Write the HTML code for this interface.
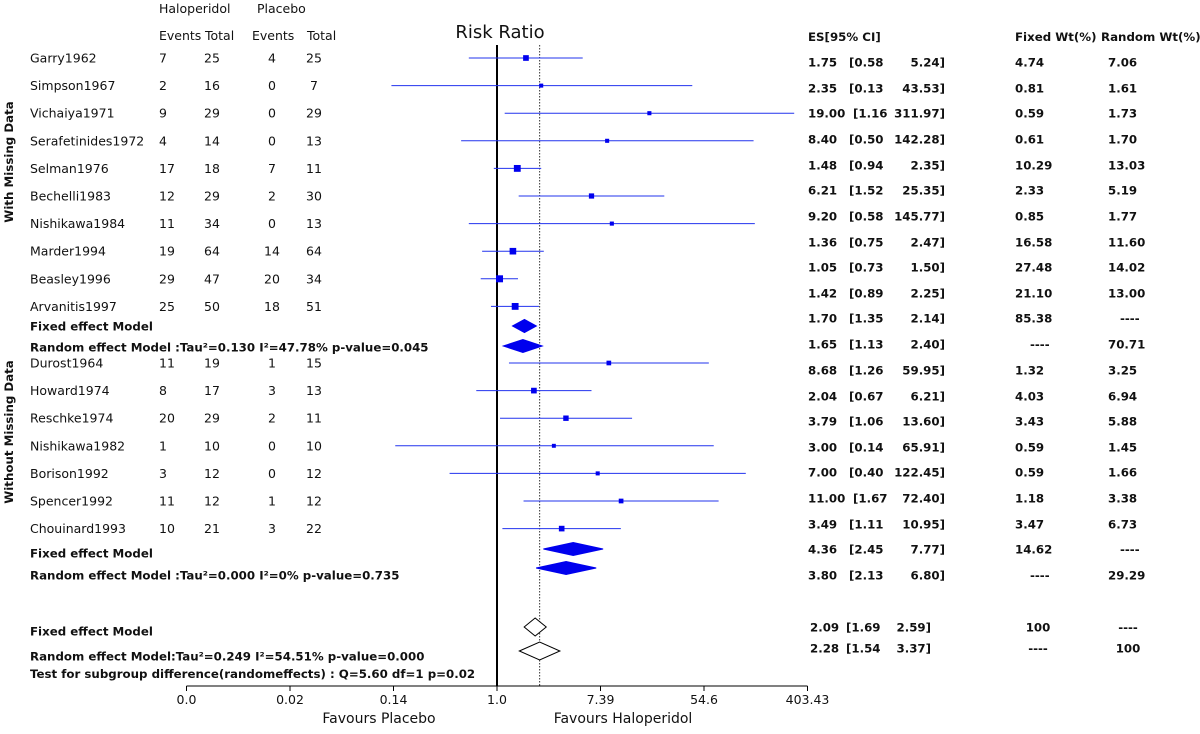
<!DOCTYPE html>
<html><head><meta charset="utf-8"><style>
body{margin:0;background:#fff;width:1200px;height:729px;overflow:hidden}
svg text{font-family:"DejaVu Sans","Liberation Sans",sans-serif;font-size:12.5px;fill:#111}
svg text.b{font-weight:bold;font-size:11.8px}
</style></head><body>
<svg id="c" width="1200" height="729"></svg>
<script>
const studies=["Garry1962","Simpson1967","Vichaiya1971","Serafetinides1972","Selman1976","Bechelli1983","Nishikawa1984","Marder1994","Beasley1996","Arvanitis1997","Durost1964","Howard1974","Reschke1974","Nishikawa1982","Borison1992","Spencer1992","Chouinard1993"];
const groupOf=[0,0,0,0,0,0,0,0,0,0,1,1,1,1,1,1,1];
const halEvents=[7,2,9,4,17,12,11,19,29,25,11,8,20,1,3,11,10];
const halTotal=[25,16,29,14,18,29,34,64,47,50,19,17,29,10,12,12,21];
const plaEvents=[4,0,0,0,7,2,0,14,20,18,1,3,2,0,0,1,3];
const plaTotal=[25,7,29,13,11,30,13,64,34,51,15,13,11,10,12,12,22];
const es=[1.75,2.35,19.00,8.40,1.48,6.21,9.20,1.36,1.05,1.42,8.68,2.04,3.79,3.00,7.00,11.00,3.49];
const lo=[0.58,0.13,1.16,0.50,0.94,1.52,0.58,0.75,0.73,0.89,1.26,0.67,1.06,0.14,0.40,1.67,1.11];
const hi=[5.24,43.53,311.97,142.28,2.35,25.35,145.77,2.47,1.50,2.25,59.95,6.21,13.60,65.91,122.45,72.40,10.95];
const fixedWt=["4.74","0.81","0.59","0.61","10.29","2.33","0.85","16.58","27.48","21.10","1.32","4.03","3.43","0.59","0.59","1.18","3.47"];
const randomWt=[7.06,1.61,1.73,1.70,13.03,5.19,1.77,11.60,14.02,13.00,3.25,6.94,5.88,1.45,1.66,3.38,6.73];
const summaryLabels=["Fixed effect Model","Random effect Model :Tau²=0.130 I²=47.78% p-value=0.045","Fixed effect Model","Random effect Model :Tau²=0.000 I²=0% p-value=0.735","Fixed effect Model","Random effect Model:Tau²=0.249 I²=54.51% p-value=0.000"];
const sumEs=[1.70,1.65,4.36,3.80,2.09,2.28];
const sumLo=[1.35,1.13,2.45,2.13,1.69,1.54];
const sumHi=[2.14,2.40,7.77,6.80,2.59,3.37];
const sumFixedWt=["85.38","----","14.62","----","100","----"];
const sumRandomWt=["----","70.71","----","29.29","----","100"];
const tickVals=[Math.exp(-6),Math.exp(-4),Math.exp(-2),1,Math.exp(2),Math.exp(4),Math.exp(6)];
const tickLabels=["0.0","0.02","0.14","1.0","7.39","54.6","403.43"];

const svg=document.getElementById('c');
const NS="http://www.w3.org/2000/svg";
function X(v){return 497+Math.log(v)*51.75;}
function mk(tag,attrs,name,text){const e=document.createElementNS(NS,tag);for(const k in attrs)e.setAttribute(k,attrs[k]);


if(text!==undefined)e.textContent=text;svg.appendChild(e);return e;}
function txt(x,y,s,name,cls,anchor,size){const a={x:x,y:y};if(cls)a['class']=cls;if(anchor)a['text-anchor']=anchor;if(size)a['style']='font-size:'+size;return mk('text',a,name,s);}

// headers
txt(159,13,"Haloperidol","header-haloperidol");
txt(257,13,"Placebo","header-placebo");
txt(159,40,"Events","header-hal-events");txt(205,40,"Total","header-hal-total");
txt(252,40,"Events","header-pla-events");txt(307,40,"Total","header-pla-total");
txt(500,38,"Risk Ratio","plot-title",null,"middle","18px");
txt(808,41,"ES[95% CI]","header-es","b");
txt(1015,41,"Fixed Wt(%)","header-fixed-wt","b");
txt(1101,41,"Random Wt(%)","header-random-wt","b");
// group labels
mk('text',{x:0,y:0,'class':'b',transform:'translate(13,162) rotate(-90)','text-anchor':'middle'},'group-label-with-missing',"With Missing Data");
mk('text',{x:0,y:0,'class':'b',transform:'translate(13,432) rotate(-90)','text-anchor':'middle'},'group-label-without-missing',"Without Missing Data");

// reference lines
mk('line',{x1:X(1),x2:X(1),y1:45,y2:686,stroke:'#000','stroke-width':2},'null-line');
mk('line',{x1:X(sumEs[5]),x2:X(sumEs[5]),y1:45,y2:686,stroke:'#333','stroke-width':1,'stroke-dasharray':'1.5,1.5'},'overall-effect-line');
// axis
mk('line',{x1:X(tickVals[0]),x2:X(tickVals[6]),y1:686,y2:686,stroke:'#000','stroke-width':1},'x-axis');
tickVals.forEach((v,i)=>{mk('line',{x1:X(v),x2:X(v),y1:686,y2:691,stroke:'#000'},'x-tick');
txt(X(v),704,tickLabels[i],'x-tick-label',null,'middle');});
txt(379,723,"Favours Placebo","favours-placebo-label",null,"middle","14px");
txt(623,723,"Favours Haloperidol","favours-haloperidol-label",null,"middle","14px");

function markerY(i){return groupOf[i]===0?58+i*27.6:363+(i-10)*27.6;}
const esRowY=[62,88,113,139,165,190,216,242,267,293,370,396,421,447,472,498,524];
const sumRowY=[326,347,553,575,631,656];
const sumMarkY=[326,346,549,568,627,651];
const sumEsY=[318,344,549,575,627,648];

studies.forEach((s,i)=>{const ty=markerY(i)+4.5;
txt(30,ty,s,'study-name');
txt(159,ty,halEvents[i],'hal-events');txt(212,ty,halTotal[i],'hal-total',null,'middle');
txt(272,ty,plaEvents[i],'pla-events',null,'middle');txt(314,ty,plaTotal[i],'pla-total',null,'middle');
const y=markerY(i);
mk('line',{x1:X(lo[i]),x2:X(hi[i]),y1:y,y2:y,stroke:'#2233ee','stroke-width':1},'ci-line');
const sz=2.5+Math.sqrt(randomWt[i])*1.2;
mk('rect',{x:X(es[i])-sz/2,y:y-sz/2,width:sz,height:sz,fill:'#0000ee'},'effect-square');
const ey=esRowY[i]+4.5;
txt(808,ey,es[i].toFixed(2),'es-value','b');
txt(es[i]>=10?853:849,ey,"["+lo[i].toFixed(2),'ci-lower','b');
txt(945,ey,hi[i].toFixed(2)+"]",'ci-upper','b','end');
txt(1015,ey,fixedWt[i],'fixed-weight','b');
txt(1108,ey,randomWt[i].toFixed(2),'random-weight','b');
});
summaryLabels.forEach((s,i)=>{
txt(30,sumRowY[i]+4.5,s,'summary-label','b');
const y=sumMarkY[i],open=i>=4,h=open?9:6.5;
const a=X(sumLo[i]),b=X(sumHi[i]),c=X(sumEs[i]);
mk('polygon',{points:`${a},${y} ${c},${y-h} ${b},${y} ${c},${y+h}`,fill:open?'#fff':'#0000ee',stroke:open?'#000':'#0000ee','stroke-width':1},'summary-diamond');
const ey=sumEsY[i]+4.5,ov=i>=4;
txt(ov?810:808,ey,sumEs[i].toFixed(2),'summary-es','b');
txt(ov?846:849,ey,"["+sumLo[i].toFixed(2),'summary-ci-lower','b');
txt(ov?931:945,ey,sumHi[i].toFixed(2)+"]",'summary-ci-upper','b','end');
txt(ov?1038:(sumFixedWt[i]==="----"?1030:1015),ey,sumFixedWt[i],'summary-fixed-weight','b',ov?'middle':null);
txt(ov?1128:(sumRandomWt[i]==="----"?1120:1108),ey,sumRandomWt[i],'summary-random-weight','b',ov?'middle':null);
});
txt(30,678,"Test for subgroup difference(randomeffects) : Q=5.60 df=1 p=0.02","subgroup-test-label","b");
</script>
</body></html>
